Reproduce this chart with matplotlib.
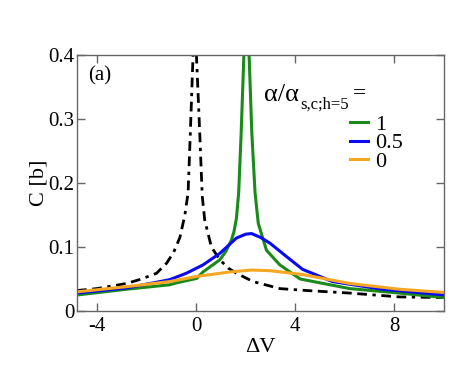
import matplotlib
matplotlib.use('Agg')
import matplotlib.pyplot as plt
from matplotlib.ticker import FuncFormatter

plt.rcParams['font.family'] = 'serif'
plt.rcParams['font.serif'] = ['Liberation Serif', 'DejaVu Serif']
plt.rcParams['axes.unicode_minus'] = False

# curva negra (raya-punto), pico en dV ~ 0
dv_black = [-4.8, -4.0, -2.8, -2.2, -1.59, -1.18, -0.9, -0.65, -0.45, -0.32, -0.23, -0.12, -0.05,
            0.016, 0.15, 0.25, 0.35, 0.62, 0.96, 1.3, 1.63, 2.3, 3.38, 4.46, 6.2, 8.2, 10.0]
c_black = [0.032, 0.035, 0.043, 0.050, 0.059, 0.075, 0.092, 0.115, 0.150, 0.185, 0.278, 0.400, 0.550,
           0.400, 0.278, 0.180, 0.142, 0.100, 0.080, 0.067, 0.059, 0.046, 0.035, 0.032, 0.028, 0.022, 0.021]

# alpha/alpha_c = 1 (verde)
dv_green = [-4.8, -2.8, -1.06, -0.78, 0.03, 0.28, 0.96, 1.2, 1.43, 1.53, 1.63, 1.72, 1.82, 1.93, 2.03,
            2.14, 2.25, 2.38, 2.51, 2.84, 3.38, 4.2, 6.2, 8.2, 10.0]
c_green = [0.025, 0.034, 0.041, 0.044, 0.051, 0.061, 0.080, 0.093, 0.111, 0.124, 0.145, 0.185, 0.278, 0.400, 0.700,
           0.400, 0.278, 0.185, 0.137, 0.095, 0.072, 0.050, 0.035, 0.028, 0.021]

# alpha/alpha_c = 0.5 (azul)
dv_blue = [-4.8, -2.8, -1.45, -1.06, -0.39, 0.28, 0.96, 1.63, 2.0, 2.24, 2.6, 2.98, 3.65, 4.3,
           5.5, 7.5, 10.0]
c_blue = [0.028, 0.036, 0.046, 0.049, 0.059, 0.072, 0.090, 0.114, 0.120, 0.121, 0.115, 0.106, 0.085, 0.065,
          0.046, 0.034, 0.025]

# alpha/alpha_c = 0 (naranja)
dv_orange = [-4.8, -2.8, -1.06, 0.03, 1.36, 2.24, 2.98, 4.3, 6.2, 8.2, 10.0]
c_orange = [0.030, 0.038, 0.046, 0.054, 0.061, 0.064, 0.063, 0.057, 0.043, 0.034, 0.029]

labels = ['1', '0.5', '0']
xticks = [-4, 0, 4, 8]
yticks = [0, 0.1, 0.2, 0.3, 0.4]

W, H = 474, 366
fig = plt.figure(figsize=(W / 100, H / 100), dpi=100)
ax = fig.add_axes([77 / W, 1 - 311 / H, 367 / W, 256 / H])

lw = 2.2
ax.plot(dv_black, c_black, color='black', lw=2.0, dashes=(3.5, 2, 3.5, 2, 1.2, 2))
l1, = ax.plot(dv_green, c_green, color='#1a8a1a', lw=lw, label=labels[0])
l2, = ax.plot(dv_blue, c_blue, color='#0a0aee', lw=lw, label=labels[1])
l3, = ax.plot(dv_orange, c_orange, color='#f5a623', lw=lw, label=labels[2])

ax.set_xlim(-4.8, 10)
ax.set_ylim(0, 0.4)
ax.set_xticks(xticks)
ax.set_yticks(yticks)
ax.yaxis.set_major_formatter(FuncFormatter(lambda v, p: '0' if v == 0 else '%.1f' % v))

grey = '#666666'
for s in ax.spines.values():
    s.set_color(grey)
    s.set_linewidth(1.0)
ax.tick_params(axis='both', direction='in', length=6, width=1, color=grey, labelsize=15,
               top=True, right=True)
ax.tick_params(axis='y', pad=2)
ax.tick_params(axis='x', pad=4)

ax.set_xlabel('ΔV', fontsize=16, labelpad=2)
ax.set_ylabel('C [b]', fontsize=16, labelpad=0)

ax.text(0.03, 0.955, '(a)', transform=ax.transAxes, fontsize=15, va='top', ha='left')

# titulo de la leyenda: α/α con subindice
fig.text(264 / W, 1 - 101 / H, 'α/α', fontsize=19, va='baseline', ha='left')
fig.text(300 / W, 1 - 109 / H, 's,c;h=5', fontsize=12, va='baseline', ha='left')
fig.text(353 / W, 1 - 99 / H, '=', fontsize=17, va='baseline', ha='left')

ax.legend(handles=[l1, l2, l3], loc='upper left', bbox_to_anchor=(0.745, 0.769),
          frameon=False, borderpad=0, borderaxespad=0, handlelength=0.8,
          handletextpad=0.3, labelspacing=-0.08, fontsize=16)

fig.savefig('out.png', dpi=100)
